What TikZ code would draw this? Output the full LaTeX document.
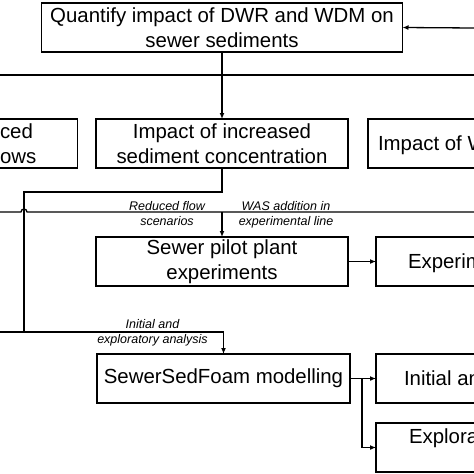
\documentclass[tikz,border=0pt]{standalone}
\usepackage{fontspec}
\setmainfont{Liberation Sans}
\usetikzlibrary{calc,arrows.meta}

\begin{document}
\begin{tikzpicture}[x=1pt,y=-1pt,every node/.style={outer sep=0pt}]
\tikzstyle{box}=[draw,line width=1.3pt,inner sep=0pt,minimum height=49pt,align=center,font=\fontsize{20.4}{25}\selectfont]
\tikzstyle{boxtext}=[inner sep=0pt,align=left,font=\fontsize{20.4}{25}\selectfont]
\tikzstyle{note}=[inner sep=0pt,align=center,font=\fontsize{12.5}{15.5}\selectfont\itshape]
\tikzstyle{wire}=[line width=1.3pt]
\tikzstyle{link}=[wire,-{Latex[length=6pt,width=5pt]}]

\useasboundingbox (0,0) rectangle (474,474);

% aim
\node (quantify) [box,minimum width=361pt] at (222,27.5) {Quantify impact of DWR and WDM on\\sewer sediments};
\coordinate (feedback) at (474,28);
\draw [link] (feedback) -- (quantify.east);

\coordinate (topW) at (0,75);
\coordinate (topE) at (474,75);
\draw [wire] (topW) -- (topE);

% second row
\node (reduced) [box,minimum width=180pt,anchor=east] at (77.5,143.5) {};
\node (reducedtxt) [boxtext,anchor=base west] at (0,163) {ced\\ows};
\node (impact) [box,minimum width=252pt] at (222,143.5) {Impact of increased\\sediment concentration};
\node (was) [box,minimum width=200pt,anchor=west] at (368,143.5) {};
\node (wastxt) [boxtext,anchor=base west] at (378,150) {Impact of W};

\draw [link] (quantify.south) -- (impact.north);

% flow line with hop
\coordinate (flowW) at (0,212);
\coordinate (hop) at (24,212);
\coordinate (flowE) at (474,212);
\draw [wire] (flowW) -- ($(hop)+(-3,0)$) arc (180:360:3) -- (flowE);
\node (flownote) [note] at (167,213.5) {Reduced flow\\scenarios};
\node (wasnote) [note] at (286,215) {WAS addition in\\experimental line};

\coordinate (bend) at (24,192);
\coordinate (modelW) at (0,332);
\draw [wire] (impact.south) |- (bend) -- (bend |- modelW);

% experiments
\node (pilot) [box,minimum width=252pt] at (222,261.5) {Sewer pilot plant\\experiments};
\node (exper) [box,minimum width=200pt,anchor=west] at (376,261.5) {};
\node (expertxt) [boxtext,anchor=base west] at (408,268) {Experim};
\draw [link] (pilot.north |- flowW) -- (pilot.north);
\draw [link] (pilot.east) -- (exper.west);

% modelling
\node (sedfoam) [box,minimum width=253pt] at (223.5,378.5) {SewerSedFoam modelling};
\node (initial) [box,minimum width=200pt,anchor=west] at (376,378.5) {};
\node (initialtxt) [boxtext,anchor=base west] at (404,385) {Initial an};
\node (explora) [box,minimum width=200pt,anchor=west] at (376,447.5) {};
\node (exploratxt) [boxtext,anchor=base west] at (409,443) {Explora};
\node (modelnote) [note] at (152.5,333) {Initial and\\exploratory analysis};
\draw [link] (modelW) -| (sedfoam.north);

\coordinate (split) at (362,378.5);
\draw [wire] (sedfoam.east) -- (split);
\draw [link] (split) -- (initial.west);
\draw [link] (split) |- (explora.west);
\end{tikzpicture}
\end{document}
